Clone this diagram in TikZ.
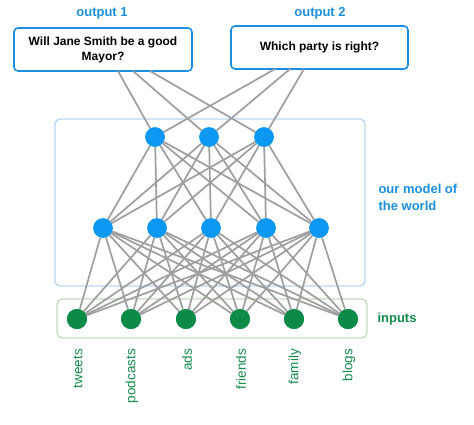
\documentclass[tikz,border=0pt]{standalone}
\usepackage{fontspec}
\setmainfont{Liberation Sans}
\begin{document}
\begin{tikzpicture}[x=1pt,y=-1pt,
  bluec/.style={fill=nodeblue,draw=none,circle,minimum size=19.5pt,inner sep=0pt},
  greenc/.style={fill=nodegreen,draw=none,circle,minimum size=20pt,inner sep=0pt},
  edge/.style={draw=edgegray,line width=1.7pt},
  qbox/.style={draw=boxblue,line width=1.6pt,rounded corners=4pt,fill=white,align=center,font=\bfseries\fontsize{12}{15}\selectfont},
  bluelabel/.style={text=labelblue,font=\bfseries\fontsize{13}{17}\selectfont},
  greenlabel/.style={text=labelgreen,font=\bfseries\fontsize{13}{17}\selectfont},
  inlabel/.style={text=labelgreen,font=\fontsize{13.5}{16}\selectfont,rotate=90,anchor=east,inner sep=0pt}]
\definecolor{nodeblue}{HTML}{0A98F2}
\definecolor{nodegreen}{HTML}{0B8A48}
\definecolor{edgegray}{HTML}{9E9E9E}
\definecolor{boxblue}{HTML}{1A8FE3}
\definecolor{labelblue}{HTML}{1A8FE0}
\definecolor{labelgreen}{HTML}{138A4A}
\definecolor{modelbox}{HTML}{BBD7EF}
\definecolor{inbox}{HTML}{C3DEBF}
\useasboundingbox (0,0) rectangle (474,424);
% frames
\node[draw=modelbox,line width=1.4pt,rounded corners=5pt,minimum width=310pt,minimum height=167pt,inner sep=0pt] (model) at (210,202.5) {};
\node[draw=inbox,line width=1.4pt,rounded corners=5pt,minimum width=310pt,minimum height=39pt,inner sep=0pt] (inframe) at (212,318.5) {};
% question boxes
\node[qbox,minimum width=178pt,minimum height=43pt,inner sep=2pt] (q1) at (103,49.5) {Will Jane Smith be a good\\Mayor?};
\node[qbox,minimum width=177pt,minimum height=43pt,inner sep=2pt] (q2) at (319.5,47.5) {Which party is right?};
\node[bluelabel] (o1) at (102,13) {output 1};
\node[bluelabel] (o2) at (320,13) {output 2};
% nodes
\node[bluec] (t1) at (155,137) {};
\node[bluec] (t2) at (209,137) {};
\node[bluec] (t3) at (264,137) {};
\node[bluec] (m1) at (103,228) {};
\node[bluec] (m2) at (157,228) {};
\node[bluec] (m3) at (211,228) {};
\node[bluec] (m4) at (266,228) {};
\node[bluec] (m5) at (319,228) {};
\node[greenc] (i1) at (77,319) {};
\node[greenc] (i2) at (131,319) {};
\node[greenc] (i3) at (186,319) {};
\node[greenc] (i4) at (240,319) {};
\node[greenc] (i5) at (294,319) {};
\node[greenc] (i6) at (348,319) {};
% anchor points on boxes
\coordinate (a1) at (118,71);
\coordinate (a2) at (133,71);
\coordinate (a3) at (150,71);
\coordinate (b1) at (275,69);
\coordinate (b2) at (290,69);
\coordinate (b3) at (304,69);
\foreach \i in {1,...,6}{\foreach \m in {1,...,5}{\path[edge] (i\i) -- (m\m);}}
\foreach \m in {1,...,5}{\foreach \t in {1,2,3}{\path[edge] (m\m) -- (t\t);}}
\path[edge] (a1) -- (t1); \path[edge] (a2) -- (t2); \path[edge] (a3) -- (t3);
\path[edge] (b1) -- (t1); \path[edge] (b2) -- (t2); \path[edge] (b3) -- (t3);
% redraw nodes on top
\foreach \n in {t1,t2,t3,m1,m2,m3,m4,m5}{\fill[nodeblue] (\n) circle (9.75pt);}
\foreach \n in {i1,i2,i3,i4,i5,i6}{\fill[nodegreen] (\n) circle (10pt);}
% labels
\node[bluelabel,anchor=west,align=left] (ml) at (375,197.5) {our model of\\the world};
\node[greenlabel,anchor=west] (il) at (374,319) {inputs};
\node[inlabel] (l1) at (78,349) {tweets};
\node[inlabel] (l2) at (132,349) {podcasts};
\node[inlabel] (l3) at (187,349) {ads};
\node[inlabel] (l4) at (241,349) {friends};
\node[inlabel] (l5) at (295,349) {family};
\node[inlabel] (l6) at (349,349) {blogs};
\end{tikzpicture}
\end{document}
